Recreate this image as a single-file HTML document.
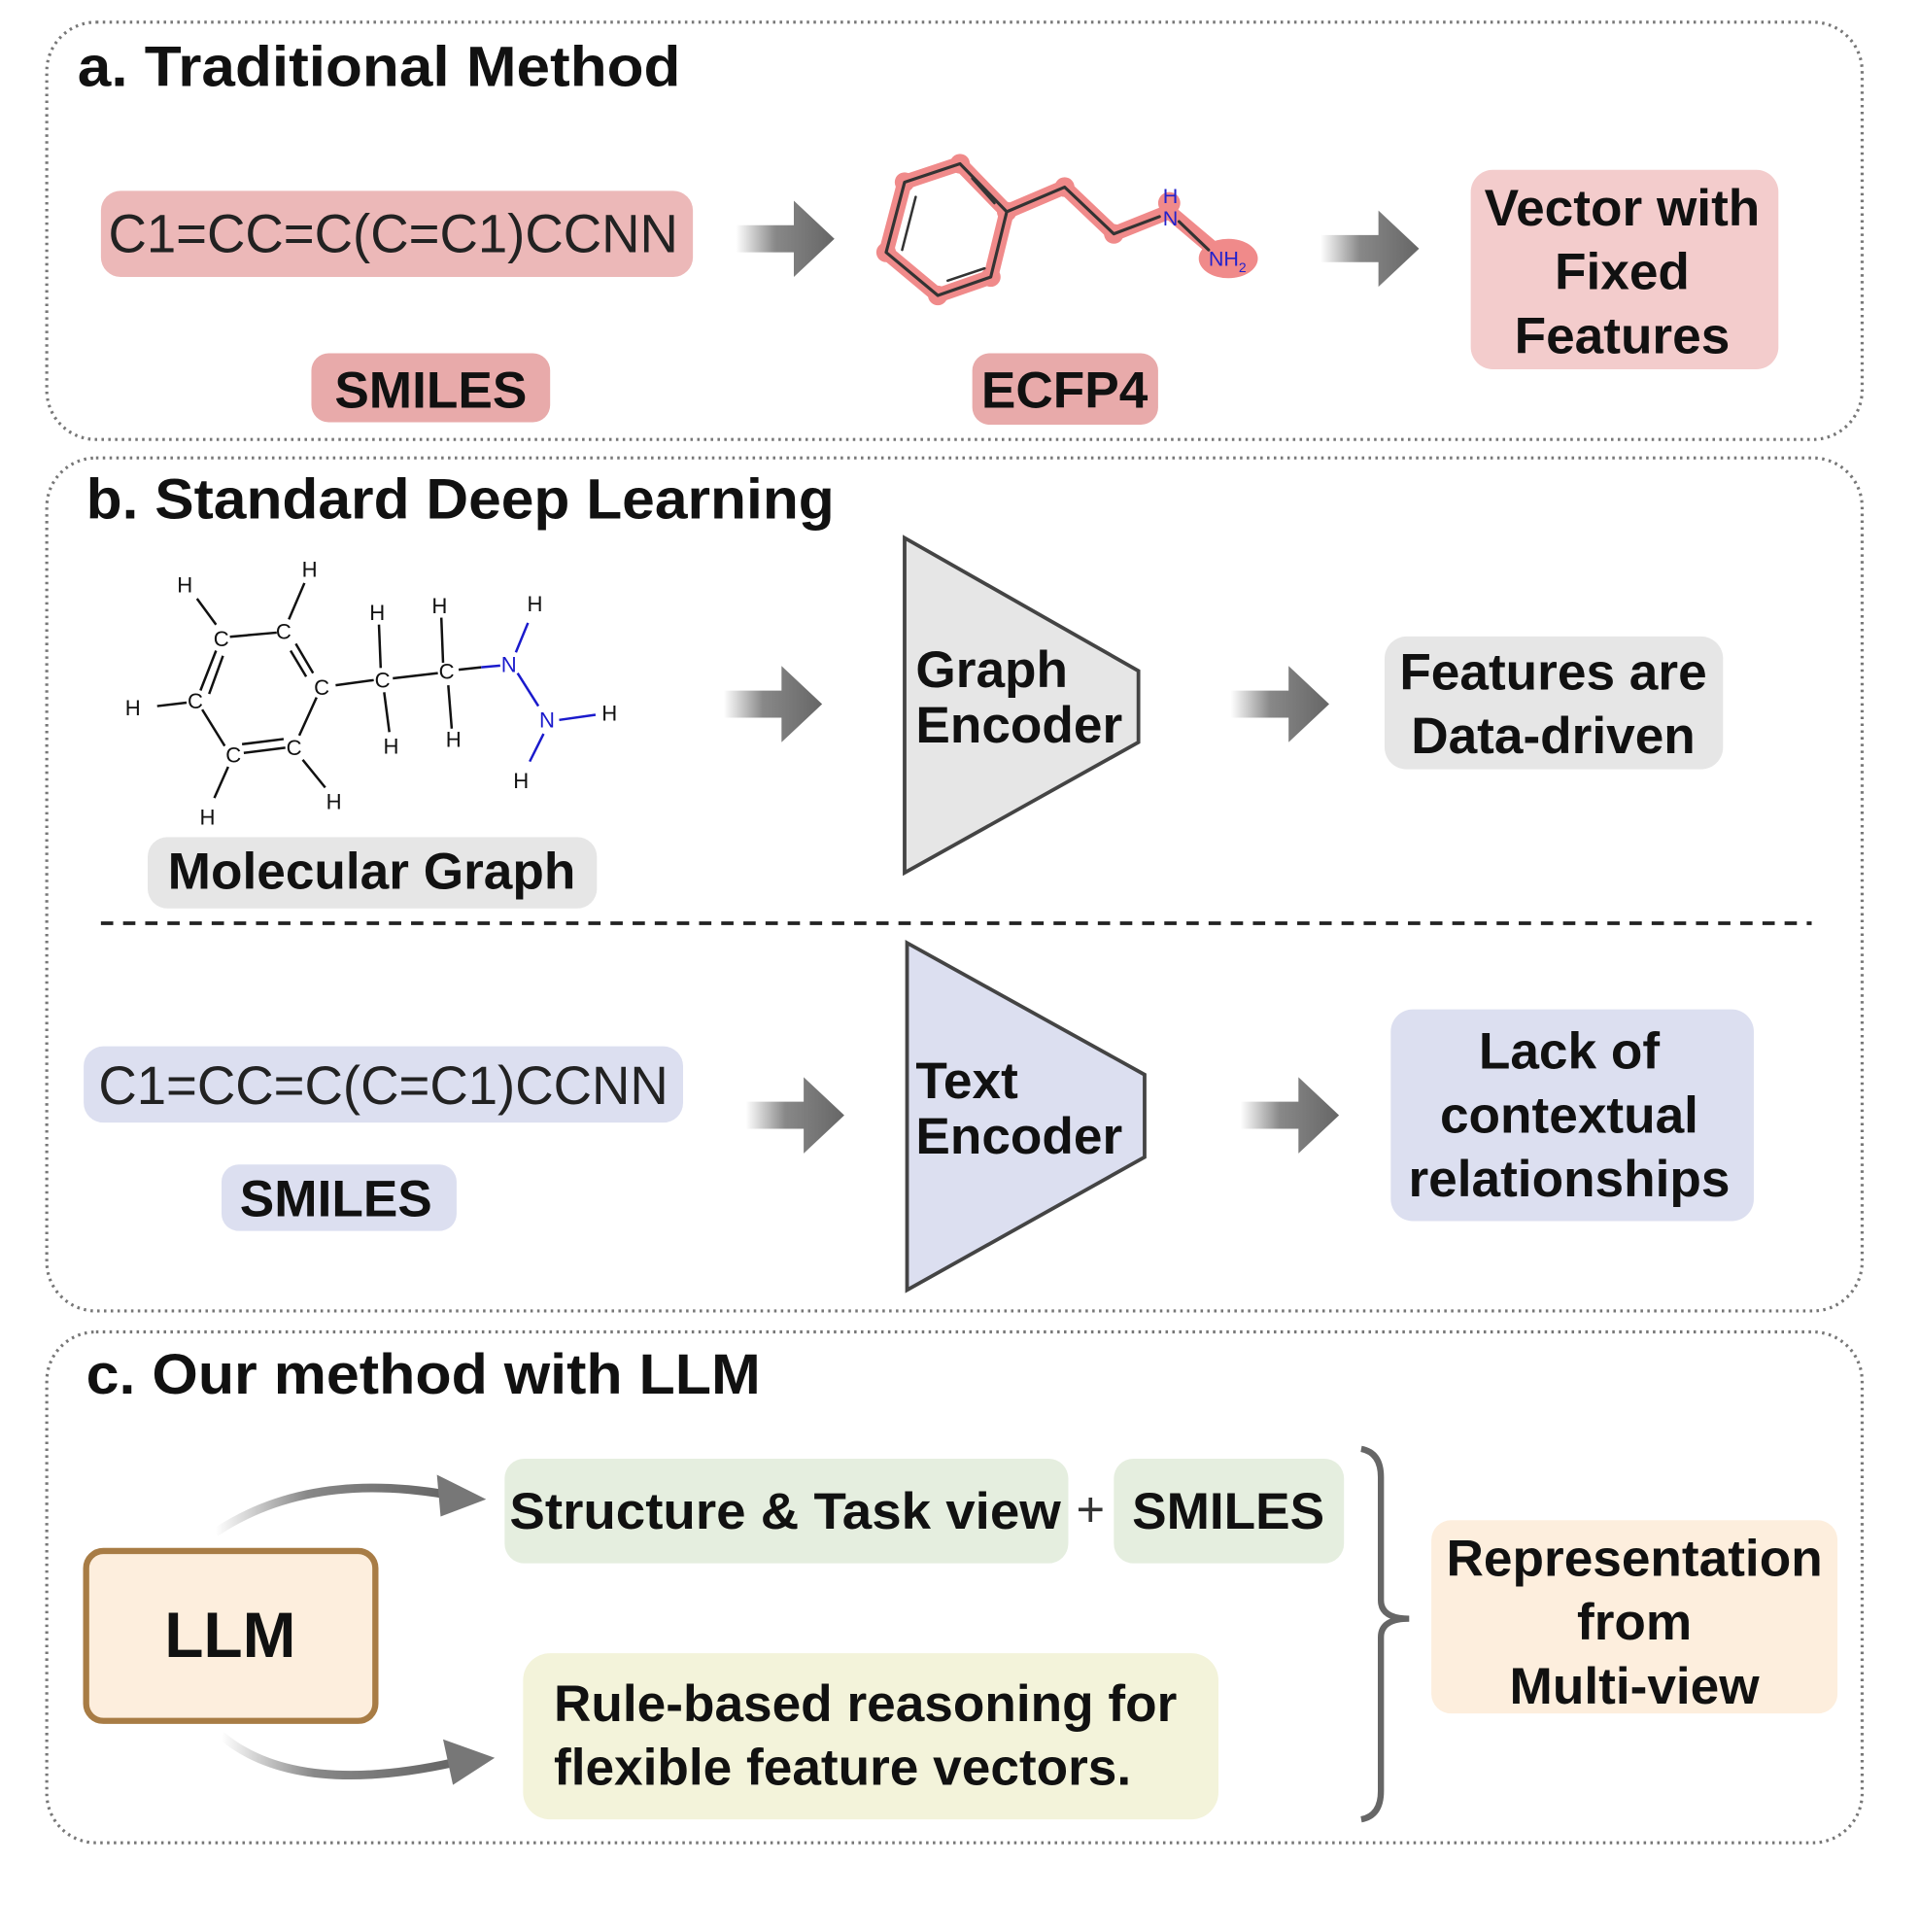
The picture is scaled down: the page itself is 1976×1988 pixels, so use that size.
<!DOCTYPE html>
<html><head><meta charset="utf-8"><style>html,body{margin:0;padding:0;background:#fff}svg{display:block}</style></head>
<body>
<svg width="1976" height="1988" viewBox="0 0 1560 1569.5" preserveAspectRatio="xMinYMin meet" xmlns="http://www.w3.org/2000/svg" font-family="Liberation Sans, sans-serif">
<defs>
<linearGradient id="ag" x1="0" x2="1" y1="0" y2="0"><stop offset="0" stop-color="#fff"/><stop offset="0.4" stop-color="#888"/><stop offset="1" stop-color="#666"/></linearGradient>
<g id="arr"><path d="M0,-11 L47,-11 L47,-31 L80,0 L47,31 L47,11 L0,11 Z" fill="url(#ag)"/></g>
</defs>
<g fill="none" stroke="#777" stroke-width="2.5" stroke-dasharray="2,3.5">
<rect x="38" y="18" width="1475" height="339" rx="40"/>
<rect x="38" y="372" width="1475" height="693" rx="40"/>
<rect x="38" y="1082" width="1475" height="415" rx="40"/>
</g>
<g font-weight="bold" font-size="46" fill="#111">
<text x="63" y="70" textLength="490" lengthAdjust="spacingAndGlyphs">a. Traditional Method</text>
<text x="70" y="421" textLength="608" lengthAdjust="spacingAndGlyphs">b. Standard Deep Learning</text>
<text x="70" y="1132" textLength="548" lengthAdjust="spacingAndGlyphs">c. Our method with LLM</text>
</g>
<!-- section a -->
<rect x="82" y="155" width="481" height="70" rx="16" fill="#ecb8b8"/>
<text x="88" y="205" font-size="44" fill="#222" textLength="463" lengthAdjust="spacingAndGlyphs">C1=CC=C(C=C1)CCNN</text>
<rect x="253" y="287" width="194" height="56" rx="14" fill="#e8aaaa"/>
<text x="350" y="331" font-size="42" font-weight="bold" text-anchor="middle" fill="#111">SMILES</text>
<rect x="790" y="287" width="151" height="58" rx="14" fill="#e8aaaa"/>
<text x="865" y="331" font-size="42" font-weight="bold" text-anchor="middle" fill="#111">ECFP4</text>
<rect x="1195" y="138" width="250" height="162" rx="18" fill="#f3cccc"/>
<g font-size="42" font-weight="bold" text-anchor="middle" fill="#111">
<text x="1318" y="183">Vector with</text><text x="1318" y="235">Fixed</text><text x="1318" y="287">Features</text>
</g>
<use href="#arr" x="598" y="194"/>
<use href="#arr" x="1073" y="202"/>
<!-- ECFP molecule -->
<g fill="none" stroke-linecap="round" stroke-linejoin="round">
<path d="M735,148 L780,133 L818,172 L805,225 L762,240 L720,205 Z M818,172 L865,152 L905,190 L950,172 L995,210" stroke="#f08a8a" stroke-width="12"/>
<ellipse cx="998" cy="210" rx="24" ry="16" fill="#f08a8a" stroke="none"/>
<g fill="#f08a8a" stroke="none"><circle cx="735" cy="148" r="8"/><circle cx="780" cy="133" r="8"/><circle cx="818" cy="172" r="8"/><circle cx="805" cy="225" r="8"/><circle cx="762" cy="240" r="8"/><circle cx="720" cy="205" r="8"/><circle cx="865" cy="152" r="8"/><circle cx="905" cy="190" r="8"/><circle cx="950" cy="165" r="9"/></g>
<path d="M735,148 L780,133 L818,172 L805,225 L762,240 L720,205 Z M818,172 L865,152 L905,190 L942,176 M958,180 L982,203" stroke="#333" stroke-width="2.5"/>
<path d="M744,160 L733,203 M790,145 L808,165 M770,228 L800,218" stroke="#333" stroke-width="2"/>
</g>
<text x="951" y="165" font-size="17" fill="#22c" text-anchor="middle">H</text>
<text x="951" y="183" font-size="17" fill="#22c" text-anchor="middle">N</text>
<text x="982" y="216" font-size="17" fill="#22c">NH<tspan font-size="11" dy="5">2</tspan></text>
<!-- section b -->
<g transform="translate(78.4,431.4) scale(0.2816)" stroke="#111" stroke-width="7" fill="none">
<path d="M385,305 L520,293 M575,325 L625,410 M560,345 L605,420 M635,480 L585,590 M545,625 L425,640 M540,600 L420,615 M370,620 L305,515 M300,460 L345,345 M325,470 L365,360 M690,445 L800,430 M855,425 L985,410 M1045,400 L1110,393 M345,270 L290,195 M555,255 L600,150 M175,505 L260,495 M380,680 L340,770 M595,660 L660,740 M820,395 L815,270 M830,465 L845,580 M1000,380 L995,250 M1015,445 L1025,570"/>
<path d="M1110,393 L1165,388 M1215,410 L1275,505 M1335,545 L1440,530 M1290,585 L1250,665 M1210,350 L1245,265" stroke="#1a1acc"/>
<g font-size="62" fill="#111" stroke="none" text-anchor="middle">
<text x="360" y="332">C</text><text x="540" y="312">C</text><text x="650" y="472">C</text><text x="570" y="647">C</text><text x="395" y="667">C</text><text x="285" y="512">C</text><text x="825" y="452">C</text><text x="1010" y="427">C</text>
<text x="255" y="177">H</text><text x="615" y="132">H</text><text x="105" y="532">H</text><text x="320" y="847">H</text><text x="685" y="802">H</text><text x="810" y="257">H</text><text x="850" y="642">H</text><text x="990" y="237">H</text><text x="1030" y="622">H</text><text x="1265" y="232">H</text><text x="1480" y="547">H</text><text x="1225" y="742">H</text>
<text x="1190" y="407" fill="#1a1acc">N</text><text x="1300" y="567" fill="#1a1acc">N</text>
</g>
</g>
<rect x="120" y="680" width="365" height="58" rx="16" fill="#e6e6e6"/>
<text x="302" y="722" font-size="42" font-weight="bold" text-anchor="middle" fill="#111">Molecular Graph</text>
<path d="M735,437 L925,545 L925,603 L735,709 Z" fill="#e6e6e6" stroke="#444" stroke-width="3"/>
<g font-size="42" font-weight="bold" fill="#111"><text x="744" y="558">Graph</text><text x="744" y="603">Encoder</text></g>
<use href="#arr" x="588" y="572"/>
<use href="#arr" x="1000" y="572"/>
<rect x="1125" y="517" width="275" height="108" rx="18" fill="#e6e6e6"/>
<g font-size="42" font-weight="bold" text-anchor="middle" fill="#111"><text x="1262" y="560">Features are</text><text x="1262" y="612">Data-driven</text></g>
<line x1="82" y1="750" x2="1472" y2="750" stroke="#222" stroke-width="3" stroke-dasharray="10,8"/>
<rect x="68" y="850" width="487" height="62" rx="16" fill="#dcdff0"/>
<text x="80" y="897" font-size="44" fill="#222" textLength="463" lengthAdjust="spacingAndGlyphs">C1=CC=C(C=C1)CCNN</text>
<rect x="180" y="946" width="191" height="54" rx="14" fill="#dcdff0"/>
<text x="273" y="988" font-size="42" font-weight="bold" text-anchor="middle" fill="#111">SMILES</text>
<path d="M737,766 L930,873 L930,940 L737,1048 Z" fill="#dcdff0" stroke="#444" stroke-width="3"/>
<g font-size="42" font-weight="bold" fill="#111"><text x="744" y="892">Text</text><text x="744" y="937">Encoder</text></g>
<use href="#arr" x="606" y="906"/>
<use href="#arr" x="1008" y="906"/>
<rect x="1130" y="820" width="295" height="172" rx="18" fill="#dcdff0"/>
<g font-size="42" font-weight="bold" text-anchor="middle" fill="#111"><text x="1275" y="868">Lack of</text><text x="1275" y="920">contextual</text><text x="1275" y="972">relationships</text></g>
<!-- section c -->
<rect x="70" y="1260" width="235" height="138" rx="14" fill="#fdeedd" stroke="#a87c45" stroke-width="5"/>
<text x="187" y="1346" font-size="52" font-weight="bold" text-anchor="middle" fill="#111">LLM</text>
<path d="M175,1245 Q250,1195 362,1214" fill="none" stroke="url(#ag)" stroke-width="7"/>
<path d="M395,1218 L355,1198 L358,1232 Z" fill="#777"/>
<path d="M180,1410 Q240,1460 368,1432" fill="none" stroke="url(#ag)" stroke-width="7"/>
<path d="M402,1428 L360,1413 L368,1450 Z" fill="#777"/>
<rect x="410" y="1185" width="458" height="85" rx="16" fill="#e5eedf"/>
<text x="414" y="1242" font-size="42" font-weight="bold" fill="#111" textLength="448" lengthAdjust="spacingAndGlyphs">Structure &amp; Task view</text>
<text x="886" y="1240" font-size="40" text-anchor="middle" fill="#333">+</text>
<rect x="905" y="1185" width="187" height="85" rx="16" fill="#e5eedf"/>
<text x="998" y="1242" font-size="42" font-weight="bold" text-anchor="middle" fill="#111">SMILES</text>
<rect x="425" y="1343" width="565" height="135" rx="22" fill="#f3f3da"/>
<g font-size="42" font-weight="bold" fill="#111"><text x="450" y="1398">Rule-based reasoning for</text><text x="450" y="1450">flexible feature vectors.</text></g>
<path d="M1106,1177 Q1122,1180 1122,1200 L1122,1300 Q1122,1315 1145,1315 Q1122,1315 1122,1330 L1122,1455 Q1122,1475 1106,1478" fill="none" stroke="#666" stroke-width="5"/>
<rect x="1163" y="1235" width="330" height="157" rx="16" fill="#fdeedd"/>
<g font-size="42" font-weight="bold" text-anchor="middle" fill="#111"><text x="1328" y="1280">Representation</text><text x="1328" y="1332">from</text><text x="1328" y="1384">Multi-view</text></g>
</svg>
</body></html>
